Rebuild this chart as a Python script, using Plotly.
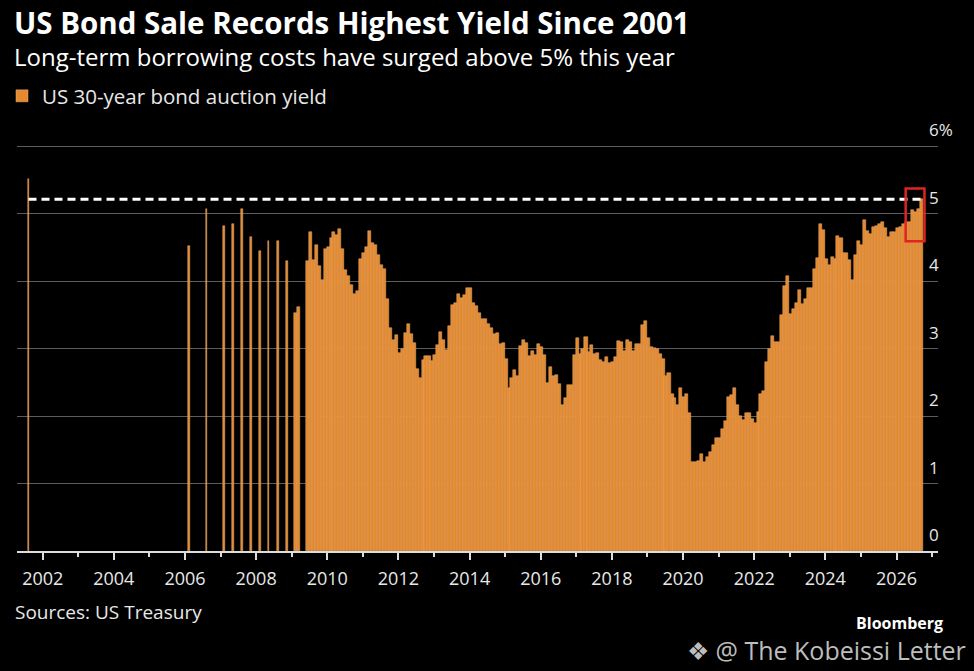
import pandas as pd
import plotly.graph_objects as go

# ---------------- data ----------------
early_dates = ["2001-08-08", "2006-02-09", "2006-08-10", "2007-02-08", "2007-05-10",
               "2007-08-09", "2007-11-08", "2008-02-07", "2008-05-08", "2008-08-14",
               "2008-11-13", "2009-02-12", "2009-03-12"]
early_yields = [5.51, 4.52, 5.07, 4.81, 4.84, 5.06, 4.65, 4.44, 4.59, 4.60, 4.30, 3.53, 3.62]

monthly_start = "2009-05-10"   # monthly auctions from May 2009 to Aug 2026
monthly_yields = [
    4.29, 4.72, 4.31, 4.53, 4.22, 4.02, 4.47, 4.51,                          # 2009 May-Dec
    4.63, 4.72, 4.68, 4.77, 4.48, 4.17, 4.07, 3.94, 3.81, 3.85, 4.32, 4.41,  # 2010
    4.51, 4.74, 4.56, 4.53, 4.38, 4.23, 4.18, 3.74, 3.30, 3.12, 3.20, 2.93,  # 2011
    2.99, 3.23, 3.37, 3.22, 3.08, 2.70, 2.56, 2.83, 2.89, 2.89, 2.82, 2.90,  # 2012
    3.05, 3.25, 3.12, 2.98, 3.34, 3.65, 3.67, 3.81, 3.75, 3.79, 3.90, 3.89,  # 2013
    3.68, 3.63, 3.52, 3.44, 3.43, 3.36, 3.30, 3.22, 3.23, 3.07, 3.08, 2.84,  # 2014
    2.42, 2.56, 2.68, 2.59, 3.03, 3.12, 3.08, 2.89, 2.96, 2.90, 3.06, 3.02,  # 2015
    2.90, 2.49, 2.72, 2.59, 2.61, 2.47, 2.17, 2.27, 2.46, 2.46, 2.90, 3.15,  # 2016
    2.92, 3.00, 3.17, 2.95, 3.05, 2.92, 2.93, 2.83, 2.80, 2.87, 2.79, 2.80,  # 2017
    2.87, 3.11, 3.10, 2.97, 3.12, 3.09, 2.97, 3.07, 3.07, 3.35, 3.41, 3.16,  # 2018
    3.02, 3.01, 3.00, 2.92, 2.85, 2.60, 2.64, 2.32, 2.27, 2.16, 2.42, 2.28,  # 2019
    2.32, 2.04, 1.32, 1.32, 1.33, 1.44, 1.32, 1.39, 1.47, 1.57, 1.67, 1.67,  # 2020
    1.81, 1.93, 2.28, 2.31, 2.41, 2.17, 2.00, 1.94, 2.04, 2.05, 1.95, 1.89,  # 2021
    2.06, 2.33, 2.37, 2.80, 3.00, 3.18, 3.10, 3.10, 3.50, 3.92, 4.07, 3.51,  # 2022
    3.58, 3.68, 3.87, 3.66, 3.74, 3.90, 3.90, 4.18, 4.34, 4.84, 4.76, 4.33,  # 2023
    4.23, 4.36, 4.33, 4.67, 4.64, 4.41, 4.41, 4.31, 4.01, 4.38, 4.60, 4.53,  # 2024
    4.91, 4.74, 4.70, 4.80, 4.81, 4.84, 4.88, 4.79, 4.65, 4.73, 4.72, 4.79,  # 2025
    4.80, 4.85, 4.87, 4.88, 5.05, 5.03, 5.07, 5.21,                          # 2026 Jan-Aug
]

y_ticks = [0, 1, 2, 3, 4, 5, 6]
y_tick_labels = ["0", "1", "2", "3", "4", "5", "6%"]
x_tick_years = list(range(2002, 2027, 2))

series_name = "US 30-year bond auction yield"
title = "US Bond Sale Records Highest Yield Since 2001"
subtitle = "Long-term borrowing costs have surged above 5% this year"
source = "Sources: US Treasury"

# ---------------- build ----------------
monthly_dates = pd.date_range(monthly_start, periods=len(monthly_yields), freq="MS") + pd.Timedelta(days=9)
dates = list(pd.to_datetime(early_dates)) + list(monthly_dates)
yields = early_yields + monthly_yields

DAY_MS = 86400000
bar_widths = [17 * DAY_MS] * 11 + [31 * DAY_MS] * (len(yields) - 11)

W, H = 974, 671
P_LEFT, P_RIGHT, P_TOP, P_BOTTOM = 17, 938, 144, 551
L, T, R, B = P_LEFT, P_TOP, W - P_RIGHT, H - P_BOTTOM


def px_x(x):
    return (x - P_LEFT) / (P_RIGHT - P_LEFT)


def px_y(y):
    return (P_BOTTOM - y) / (P_BOTTOM - P_TOP)


FONT = "Open Sans"
TXT = "#e8e8e8"
ORANGE = "#E38A30"

fig = go.Figure()
fig.add_trace(go.Bar(
    x=dates, y=yields, name=series_name, width=bar_widths,
    marker=dict(color=ORANGE, line=dict(color="#F2AC6C", width=0.5)),
    showlegend=True,
))
fig.add_trace(go.Scatter(
    x=[dates[0], dates[-1]], y=[yields[-1], yields[-1]],
    mode="lines", line=dict(color="white", width=3, dash="8px,5px"),
    showlegend=False, hoverinfo="skip",
))

fig.add_shape(type="rect", xref="x", yref="y",
              x0="2026-04-05", x1="2026-10-15", y0=4.59, y1=5.37,
              line=dict(color="#E0241F", width=2.5), fillcolor="rgba(0,0,0,0)")

annotations = []
for v, lab in zip(y_ticks, y_tick_labels):
    annotations.append(dict(xref="paper", yref="y", x=px_x(927), y=v, text=lab,
                            xanchor="left", yanchor="bottom", yshift=3, showarrow=False,
                            font=dict(family=FONT, size=17, color=TXT)))
annotations += [
    dict(xref="paper", yref="paper", x=px_x(13), y=px_y(22), text=f"<b>{title}</b>",
         xanchor="left", yanchor="middle", showarrow=False, borderpad=0,
         font=dict(family=FONT, size=29.5, color="white")),
    dict(xref="paper", yref="paper", x=px_x(13), y=px_y(56), text=subtitle,
         xanchor="left", yanchor="middle", showarrow=False, borderpad=0,
         font=dict(family=FONT, size=24, color="white")),
    dict(xref="paper", yref="paper", x=px_x(13), y=px_y(612), text=source,
         xanchor="left", yanchor="middle", showarrow=False,
         font=dict(family=FONT, size=19, color=TXT)),
    dict(xref="paper", yref="paper", x=px_x(967), y=px_y(650), text="❖ @ The Kobeissi Letter",
         xanchor="right", yanchor="middle", showarrow=False, borderpad=0,
         font=dict(family=FONT, size=25, color="#bdbdbd")),
    dict(xref="paper", yref="paper", x=px_x(899), y=px_y(623), text="<b>Bloomberg</b>",
         xanchor="center", yanchor="middle", showarrow=False, borderpad=0,
         font=dict(family=FONT, size=16, color="white")),
]

fig.update_layout(
    width=W, height=H,
    margin=dict(l=L, r=R, t=T, b=B, autoexpand=False),
    paper_bgcolor="black", plot_bgcolor="black",
    bargap=0,
    showlegend=True,
    legend=dict(x=px_x(2), y=px_y(96), xanchor="left", yanchor="middle",
                font=dict(family=FONT, size=20.5, color=TXT), bgcolor="rgba(0,0,0,0)"),
    annotations=annotations,
    xaxis=dict(
        type="date", range=["2001-04-12", "2027-03-03"],
        tickvals=[f"{y}-01-01" for y in x_tick_years],
        ticktext=[str(y) for y in x_tick_years],
        ticks="outside", ticklen=7, tickwidth=1.5, tickcolor="#dddddd",
        ticklabelstandoff=3,
        minor=dict(dtick="M12", tick0="2001-01-01", ticks="outside", ticklen=4,
                   tickwidth=1.5, tickcolor="#dddddd", showgrid=False),
        showline=True, linecolor="#dddddd", linewidth=2,
        showgrid=False, zeroline=False,
        tickfont=dict(family=FONT, size=18, color=TXT),
    ),
    yaxis=dict(
        range=[0, 6.03], tickvals=y_ticks, showticklabels=False,
        showgrid=True, gridcolor="#5c5c5c", gridwidth=1, zeroline=False,
        fixedrange=True,
    ),
)

fig.write_html(
    "out.html",
    config={"displayModeBar": False},
    post_script="document.body.style.margin='0';document.body.style.background='black';",
)
